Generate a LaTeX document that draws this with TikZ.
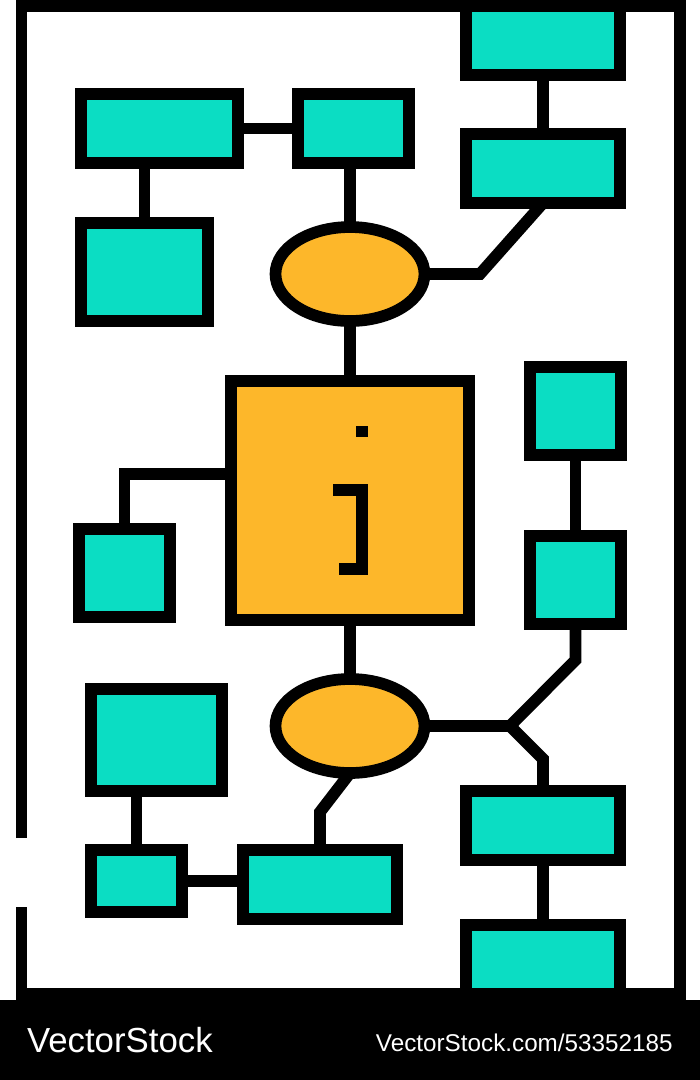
\documentclass[tikz,border=0pt]{standalone}
\usepackage{fontspec}
\newfontfamily\wmfont{Liberation Sans}
\usetikzlibrary{shapes.geometric,backgrounds}
\definecolor{teal1}{HTML}{0BDDC3}
\definecolor{orng}{HTML}{FDB72A}
\begin{document}
\begin{tikzpicture}[x=0.1mm,y=-0.1mm,
  lw/.style={line width=1.17mm},
  tbox/.style={draw=black,fill=teal1,lw,inner sep=0pt,outer sep=0pt,rectangle},
  obox/.style={draw=black,fill=orng,lw,inner sep=0pt,outer sep=0pt,rectangle},
  oell/.style={draw=black,fill=orng,lw,inner sep=0pt,outer sep=0pt,ellipse,minimum width=14.9mm,minimum height=9.4mm},
  conn/.style={draw=black,lw,line join=miter},
  wmtext/.style={text=white,inner sep=0pt,outer sep=0pt,anchor=base west}]
\useasboundingbox (0,0) rectangle (700,1080);
% nodes
\node[tbox,minimum width=15.7mm,minimum height=6.9mm] (A) at (159.5,128.5) {};
\node[tbox,minimum width=11.1mm,minimum height=6.9mm] (B) at (353.5,128.5) {};
\node[tbox,minimum width=12.7mm,minimum height=9.8mm] (C) at (144.5,272) {};
\node[tbox,minimum width=15.4mm,minimum height=6.9mm] (D) at (543,40.5) {};
\node[tbox,minimum width=15.4mm,minimum height=6.9mm] (E) at (543,168.5) {};
\node[oell] (O1) at (350,274) {};
\node[obox,minimum width=23.8mm,minimum height=23.9mm] (Main) at (350,500.5) {};
\node[tbox,minimum width=9.1mm,minimum height=8.8mm] (F) at (124.5,573) {};
\node[tbox,minimum width=9.1mm,minimum height=8.8mm] (G) at (575.5,411) {};
\node[tbox,minimum width=9.1mm,minimum height=8.8mm] (H) at (575.5,580) {};
\node[oell] (O2) at (350,726) {};
\node[tbox,minimum width=15.4mm,minimum height=6.9mm] (I) at (543,825.5) {};
\node[tbox,minimum width=15.4mm,minimum height=6.9mm] (J) at (543,959.5) {};
\node[tbox,minimum width=13.1mm,minimum height=10.2mm] (K) at (156.5,740) {};
\node[tbox,minimum width=9.1mm,minimum height=6.2mm] (L) at (136.5,881) {};
\node[tbox,minimum width=15.4mm,minimum height=6.9mm] (M) at (320,884.5) {};
% info glyph in main box
\fill[black] (356,425.7) rectangle (367.7,436.7);
\fill[black] (333.3,484.3) rectangle (367.7,496);
\fill[black] (356,484.3) rectangle (367.7,575);
\fill[black] (339.3,563.3) rectangle (367.7,575);
% watermark
\node[wmtext,font=\wmfont\fontsize{9.9pt}{11pt}\selectfont] (wm1) at (27,1052) {VectorStock};
\node[wmtext,font=\wmfont\fontsize{6.9pt}{8pt}\selectfont] (wm2) at (376,1051) {VectorStock.com/53352185};
% coordinates
\coordinate (k1) at (480,274);
\coordinate (hb) at (575.5,660);
\coordinate (jn) at (510,726);
\coordinate (ib) at (543,759);
\coordinate (cm) at (320,812);
\begin{scope}[on background layer]
  \fill[white] (0,0) rectangle (700,1080);
  \draw[lw,line join=miter] (21.4,838) -- (21.4,5.85) -- (680,5.85) -- (680,994) -- (21.4,994) -- (21.4,907);
  \fill[black] (0,1000) rectangle (700,1080);
  \draw[conn] (A) -- (B);
  \draw[conn] (C.north) -- (C.north |- A.south);
  \draw[conn] (O1.north) -- (O1.north |- B.south);
  \draw[conn] (D) -- (E);
  \draw[conn] (O1.east) -- (k1) -- (E.south);
  \draw[conn] (O1.south) -- (Main.north);
  \draw[conn] (F.north) |- ([yshift=2.65mm]Main.west);
  \draw[conn] (G) -- (H);
  \draw[conn] (H.south) -- (hb) -- (jn) -- (ib) -- (I.north);
  \draw[conn] (O2.east) -- (jn);
  \draw[conn] (Main.south) -- (O2.north);
  \draw[conn] (I) -- (J);
  \draw[conn] (L.north) -- (L.north |- K.south);
  \draw[conn] (L.east) -- (L.east -| M.west);
  \draw[conn] (M.north) -- (cm) -- (O2.south);
\end{scope}
\end{tikzpicture}
\end{document}
